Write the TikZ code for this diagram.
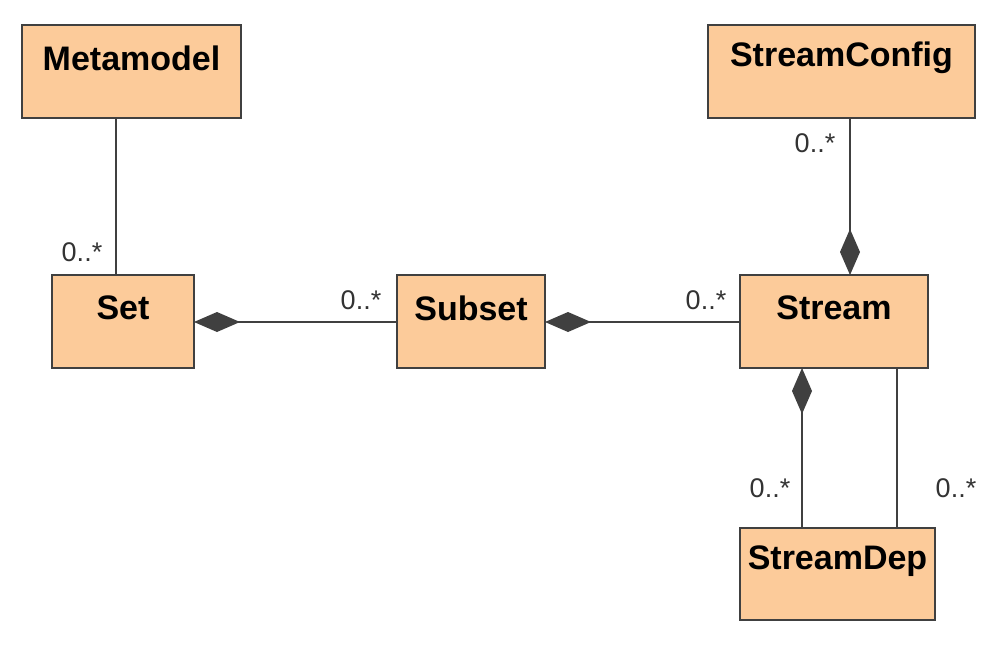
\documentclass[tikz,border=0pt]{standalone}
\usepackage{fontspec}
\setmainfont{Liberation Sans}
\usetikzlibrary{arrows.meta}
\begin{document}
\begin{tikzpicture}[x=1pt,y=-1pt,
  cls/.style={draw=black!75,line width=1.2pt,fill=orange!45!white!95!brown},
  ln/.style={draw=black!75,line width=1.6pt},
  comp/.style={ln,{Diamond[length=46pt,width=20pt]}-},
  mult/.style={font=\fontsize{27}{27}\selectfont,text=black!80,inner sep=0pt}]
\useasboundingbox (0,0) rectangle (1007,662);
\definecolor{peach}{HTML}{FCCB9A}
\tikzset{cls/.style={draw=black!75,line width=1.2pt,fill=peach}}
\newcommand\cbox[6]{\path[cls] (#2,#3) rectangle (#4,#5);
  \node[font=\fontsize{34}{34}\selectfont\bfseries,anchor=center] (#1) at ({(#2+#4)/2},{#3+33}) {#6};
  \coordinate (#1-nw) at (#2,#3);}
\cbox{meta}{22}{25}{241}{118}{Metamodel}
\cbox{cfg}{708}{25}{975}{118}{StreamConfig}
\cbox{set}{52}{275}{194}{368}{Set}
\cbox{sub}{397}{275}{545}{368}{Subset}
\cbox{str}{740}{275}{928}{368}{Stream}
\cbox{dep}{740}{528}{935}{620}{StreamDep}
\coordinate (a1) at (116,118); \coordinate (a2) at (116,275);
\draw[ln] (a1) -- (a2);
\coordinate (b1) at (194,322); \coordinate (b2) at (397,322);
\draw[comp] (b1) -- (b2);
\coordinate (c1) at (545,322); \coordinate (c2) at (740,322);
\draw[comp] (c1) -- (c2);
\coordinate (d1) at (850,275); \coordinate (d2) at (850,118);
\draw[comp] (d1) -- (d2);
\coordinate (e1) at (802,368); \coordinate (e2) at (802,528);
\draw[comp] (e1) -- (e2);
\coordinate (f1) at (897,368); \coordinate (f2) at (897,528);
\draw[ln] (f1) -- (f2);
\node[mult] (m1) at (82,252) {0..*};
\node[mult] (m2) at (361,300) {0..*};
\node[mult] (m3) at (706,300) {0..*};
\node[mult] (m4) at (815,143) {0..*};
\node[mult] (m5) at (770,488) {0..*};
\node[mult] (m6) at (956,488) {0..*};
\end{tikzpicture}
\end{document}
